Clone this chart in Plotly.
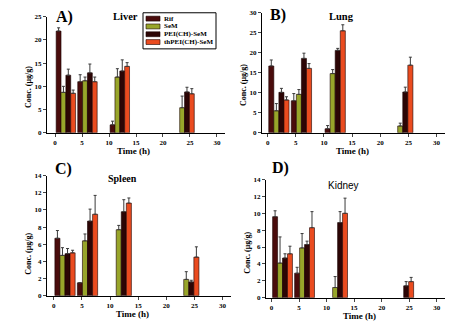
import plotly.graph_objects as go

# ---------------- data ----------------
times = [2, 6, 12, 24]
series = ["Rif", "SeM", "PEI(CH)-SeM", "thPEI(CH)-SeM"]

liver_vals = {
    "Rif": [21.9, 11.0, 1.7, None],
    "SeM": [8.7, 11.2, 12.0, 5.4],
    "PEI(CH)-SeM": [12.4, 12.9, 13.3, 8.8],
    "thPEI(CH)-SeM": [8.5, 11.0, 14.3, 8.4],
}
liver_err = {
    "Rif": [0.7, 1.5, 0.8, 0],
    "SeM": [1.3, 0.8, 1.8, 2.5],
    "PEI(CH)-SeM": [1.3, 1.9, 2.4, 1.0],
    "thPEI(CH)-SeM": [0.7, 1.0, 0.8, 1.1],
}
lung_vals = {
    "Rif": [16.7, 8.0, 1.0, None],
    "SeM": [5.5, 9.6, 14.8, 1.7],
    "PEI(CH)-SeM": [10.1, 18.6, 20.6, 10.2],
    "thPEI(CH)-SeM": [8.2, 16.1, 25.5, 16.9],
}
lung_err = {
    "Rif": [1.5, 1.8, 0.8, 0],
    "SeM": [1.8, 1.2, 1.0, 0.7],
    "PEI(CH)-SeM": [1.0, 1.3, 0.5, 1.2],
    "thPEI(CH)-SeM": [0.8, 1.2, 1.5, 2.0],
}
spleen_vals = {
    "Rif": [6.7, 1.5, None, None],
    "SeM": [4.7, 6.4, 7.7, 1.9],
    "PEI(CH)-SeM": [4.9, 8.7, 9.8, 1.6],
    "thPEI(CH)-SeM": [5.0, 9.5, 10.8, 4.5],
}
spleen_err = {
    "Rif": [0.9, 0, 0, 0],
    "SeM": [0.9, 0.8, 0.5, 0.9],
    "PEI(CH)-SeM": [0.6, 1.4, 1.4, 0.2],
    "thPEI(CH)-SeM": [0.3, 2.2, 0.6, 1.2],
}
kidney_vals = {
    "Rif": [9.6, 2.9, None, None],
    "SeM": [4.1, 5.9, 1.2, None],
    "PEI(CH)-SeM": [4.7, 6.3, 8.9, 1.4],
    "thPEI(CH)-SeM": [5.2, 8.3, 10.0, 1.9],
}
kidney_err = {
    "Rif": [0.7, 0.7, 0, 0],
    "SeM": [3.1, 1.7, 1.3, 0],
    "PEI(CH)-SeM": [0.5, 0.4, 1.3, 0.5],
    "thPEI(CH)-SeM": [0.9, 1.9, 1.8, 0.5],
}

x_ticks = [0, 5, 10, 15, 20, 25, 30]
x_title = "Time (h)"
y_title = "Conc. (μg/g)"

# ---------------- style ----------------
colors = {
    "Rif": "#4a0c0c",
    "SeM": "#98a52a",
    "PEI(CH)-SeM": "#2c0505",
    "thPEI(CH)-SeM": "#ea4b1f",
}
SERIF = "Liberation Serif"
SANS = "Liberation Sans"
W, H = 474, 327


def px_x(p):
    return p / W


def px_y(p):
    return 1 - p / H


panels = [
    # suffix, vals, err, x range, ymax, ystep, x domain px, y domain px,
    # x-title centre (px), y-title centre (px)
    ("", liver_vals, liver_err, [-1.5, 31.5], 25, 5, (47, 225), (13, 132), (133, 151), (29, 85)),
    ("2", lung_vals, lung_err, [-1.0, 31.5], 30, 5, (262, 445), (9, 132), (352, 151), (244, 83)),
    ("3", spleen_vals, spleen_err, [-1.2, 31.5], 14, 2, (47, 231), (176, 299), (132, 318), (29, 256)),
    ("4", kidney_vals, kidney_err, [-1.0, 31.5], 14, 2, (266, 445), (180, 301), (359, 320), (248, 255)),
]

fig = go.Figure()
layout_axes = {}
annotations = []
for i, (suf, vals, errs, xr, ymax, ystep, xd, yd, xt, yt) in enumerate(panels):
    xa = "x" + suf
    ya = "y" + suf
    for s in series:
        fig.add_trace(go.Bar(
            x=times, y=vals[s], name=s,
            marker=dict(color=colors[s], line=dict(color="#1a0000", width=0.6)),
            error_y=dict(type="data", symmetric=False, array=errs[s],
                         arrayminus=[0] * len(times), color="#3a3a3a",
                         thickness=1, width=1.5),
            xaxis=xa, yaxis=ya, showlegend=False,
        ))
    axis_font = dict(family=SERIF, size=7, color="black", weight="bold")
    layout_axes["xaxis" + suf] = dict(
        domain=[px_x(xd[0]), px_x(xd[1])], range=xr, anchor=ya,
        tickvals=x_ticks, ticks="outside", ticklen=3, tickwidth=1,
        showline=True, linecolor="black", linewidth=1, showgrid=False,
        zeroline=False, tickfont=axis_font,
    )
    layout_axes["yaxis" + suf] = dict(
        domain=[px_y(yd[1]), px_y(yd[0])], range=[0, ymax], anchor=xa,
        tickvals=list(range(0, ymax + 1, ystep)), ticks="outside", ticklen=3,
        tickwidth=1, showline=True, linecolor="black", linewidth=1,
        showgrid=False, zeroline=False, tickfont=axis_font,
    )
    annotations.append(dict(text="<b>%s</b>" % x_title, x=px_x(xt[0]), y=px_y(xt[1]),
                            xanchor="center", yanchor="middle",
                            font=dict(family=SERIF, size=9)))
    annotations.append(dict(text="<b>%s</b>" % y_title, x=px_x(yt[0]), y=px_y(yt[1]),
                            xanchor="center", yanchor="middle", textangle=-90,
                            font=dict(family=SERIF, size=8)))

labels = [
    ("<b>A)</b>", 54, 2, SERIF, 16),
    ("<b>Liver</b>", 111, 5, SERIF, 10.5),
    ("<b>B)</b>", 268, 0, SERIF, 16),
    ("<b>Lung</b>", 327, 5, SERIF, 10.5),
    ("<b>C)</b>", 53, 158, SERIF, 16),
    ("<b>Spleen</b>", 106, 171, SERIF, 10),
    ("<b>D)</b>", 270, 157, SERIF, 16),
    ("Kidney", 326, 178, SANS, 10),
]
for t, x, y, fam, sz in labels:
    annotations.append(dict(text=t, x=px_x(x), y=px_y(y), xanchor="left", yanchor="top",
                            font=dict(family=fam, size=sz)))

# ---- compact legend (box in panel A) ----
shapes = [dict(type="rect", xref="paper", yref="paper",
               x0=px_x(143), x1=px_x(216), y0=px_y(46), y1=px_y(9),
               line=dict(color="black", width=1), fillcolor="white", layer="above")]
row_y = [15, 23, 31, 39]
for s, ry in zip(series, row_y):
    shapes.append(dict(type="rect", xref="paper", yref="paper",
                       x0=px_x(146), x1=px_x(160), y0=px_y(ry + 2.5), y1=px_y(ry - 2.5),
                       line=dict(color="#1a0000", width=0.6), fillcolor=colors[s],
                       layer="above"))
    annotations.append(dict(text="<b>%s</b>" % s, x=px_x(162), y=px_y(ry),
                            xanchor="left", yanchor="middle",
                            font=dict(family=SERIF, size=7)))

for a in annotations:
    a.update(xref="paper", yref="paper", showarrow=False)
    a["font"]["color"] = "black"

fig.update_layout(
    width=W, height=H,
    margin=dict(l=0, r=0, t=0, b=0),
    paper_bgcolor="white", plot_bgcolor="white",
    barmode="group", bargap=0.1, bargroupgap=0.0,
    annotations=annotations, shapes=shapes,
    showlegend=False,
    **layout_axes,
)

fig.write_html("out.html")
